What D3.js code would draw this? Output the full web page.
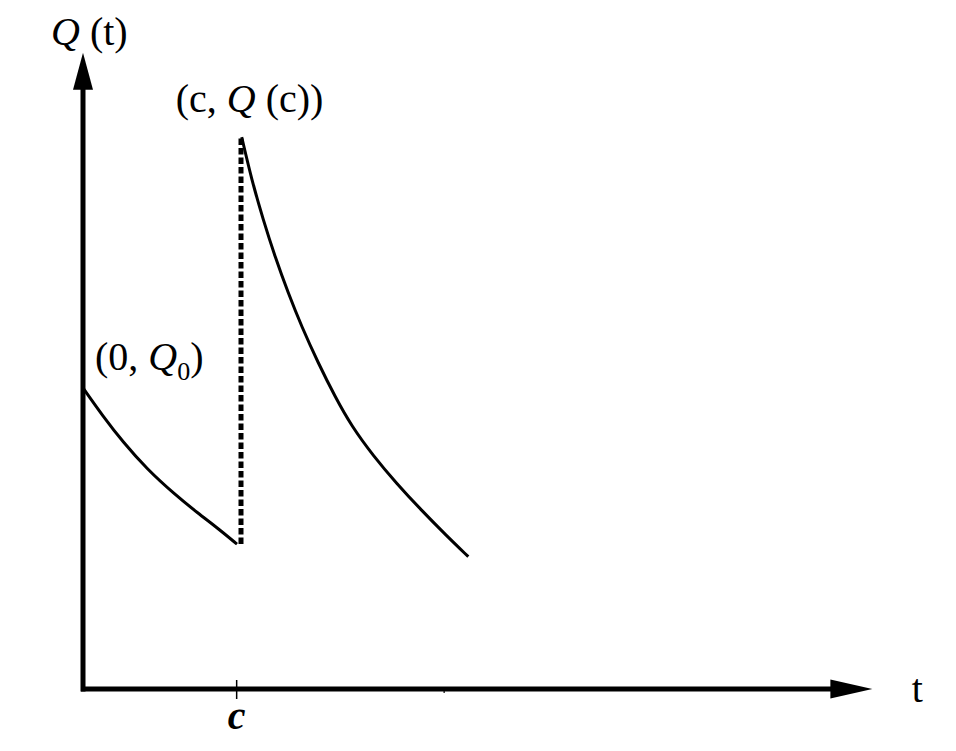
<!DOCTYPE html>
<html>
<head>
<meta charset="utf-8">
<script src="https://cdn.jsdelivr.net/npm/d3@7"></script>
<style>
  html, body { margin: 0; padding: 0; background: #fff; }
</style>
</head>
<body>
<svg id="chart" width="956" height="751" font-family="Liberation Serif, serif"></svg>
<script>
// curve before the dose at t = c
var tBefore = [0, 0.256, 0.513, 0.821, 1.167, 1.474, 1.731, 1.974];
var qBefore = [4.78, 4.33, 3.92, 3.49, 3.10, 2.79, 2.55, 2.30];
// curve after the dose
var tAfter = [2.035, 2.163, 2.312, 2.462, 2.632, 2.804, 3.017, 3.231, 3.444, 3.722, 4.022, 4.321, 4.663, 4.94];
var qAfter = [8.76, 8.08, 7.44, 6.86, 6.28, 5.75, 5.17, 4.64, 4.17, 3.70, 3.26, 2.86, 2.43, 2.10];
var cTick = 1.97;
var minorTick = 4.63;
var axisMaxT = 10.12;
var axisMaxQ = 10.1;

var svg = d3.select('#chart');
var x = d3.scaleLinear().domain([0, 10]).range([83, 863]);
var y = d3.scaleLinear().domain([0, 10]).range([689, 59]);

var line = d3.line()
    .x(d => x(d[0]))
    .y(d => y(d[1]))
    .curve(d3.curveBasis);

// axes
svg.append('line')
    .attr('x1', x(0) - 2).attr('x2', x(axisMaxT) - 40)
    .attr('y1', y(0)).attr('y2', y(0))
    .attr('stroke', '#000').attr('stroke-width', 5);
svg.append('path')
    .attr('d', 'M' + (x(axisMaxT) - 42) + ',' + (y(0) - 9.5) +
        'L' + x(axisMaxT) + ',' + y(0) +
        'L' + (x(axisMaxT) - 42) + ',' + (y(0) + 9.5) + 'Z')
    .attr('fill', '#000');

svg.append('line')
    .attr('x1', x(0)).attr('x2', x(0))
    .attr('y1', y(0) + 2.5).attr('y2', y(axisMaxQ) + 35)
    .attr('stroke', '#000').attr('stroke-width', 5);
svg.append('path')
    .attr('d', 'M' + (x(0) - 10) + ',' + (y(axisMaxQ) + 37) +
        'L' + x(0) + ',' + y(axisMaxQ) +
        'L' + (x(0) + 10) + ',' + (y(axisMaxQ) + 37) + 'Z')
    .attr('fill', '#000');

// tick at c
svg.append('line')
    .attr('x1', x(cTick)).attr('x2', x(cTick))
    .attr('y1', y(0) - 9).attr('y2', y(0) + 10)
    .attr('stroke', '#000').attr('stroke-width', 1.5);
svg.append('line')
    .attr('x1', x(minorTick)).attr('x2', x(minorTick))
    .attr('y1', y(0)).attr('y2', y(0) + 4)
    .attr('stroke', '#000').attr('stroke-width', 1.2);

svg.append('text')
    .attr('x', x(cTick)).attr('y', y(0) + 40)
    .attr('text-anchor', 'middle')
    .attr('font-size', 40).attr('font-style', 'italic').attr('font-weight', 'bold')
    .text('c');

// dashed jump at c
var xJump = Math.round(x(tAfter[0]) - 0.5);
svg.append('line')
    .attr('x1', xJump).attr('x2', xJump)
    .attr('y1', y(qBefore[qBefore.length - 1])).attr('y2', y(qAfter[0]))
    .attr('stroke', '#000').attr('stroke-width', 5)
    .attr('stroke-dasharray', '6.5,3');

// curves
svg.append('path')
    .datum(d3.zip(tBefore, qBefore))
    .attr('d', line)
    .attr('fill', 'none').attr('stroke', '#000').attr('stroke-width', 3);
svg.append('path')
    .datum(d3.zip(tAfter, qAfter))
    .attr('d', line)
    .attr('fill', 'none').attr('stroke', '#000').attr('stroke-width', 3);

// labels
var yLab = svg.append('text')
    .attr('x', x(0) - 32).attr('y', 45)
    .attr('font-size', 40);
yLab.append('tspan').attr('font-style', 'italic').text('Q');
yLab.append('tspan').text(' (t)');

svg.append('text')
    .attr('x', x(axisMaxT) + 45).attr('y', y(0) + 13)
    .attr('text-anchor', 'middle')
    .attr('font-size', 40)
    .text('t');

var peakLab = svg.append('text')
    .attr('x', x(tAfter[0]) - 66).attr('y', y(qAfter[0]) - 25)
    .attr('font-size', 40);
peakLab.append('tspan').text('(c, ');
peakLab.append('tspan').attr('font-style', 'italic').text('Q');
peakLab.append('tspan').text(' (c))');

var startLab = svg.append('text')
    .attr('x', x(0) + 12).attr('y', y(qBefore[0]) - 18)
    .attr('font-size', 40);
startLab.append('tspan').text('(0, ');
startLab.append('tspan').attr('font-style', 'italic').text('Q');
startLab.append('tspan').attr('font-size', 26).attr('dy', 10).text('0');
startLab.append('tspan').attr('dy', -10).text(')');
</script>
</body>
</html>
